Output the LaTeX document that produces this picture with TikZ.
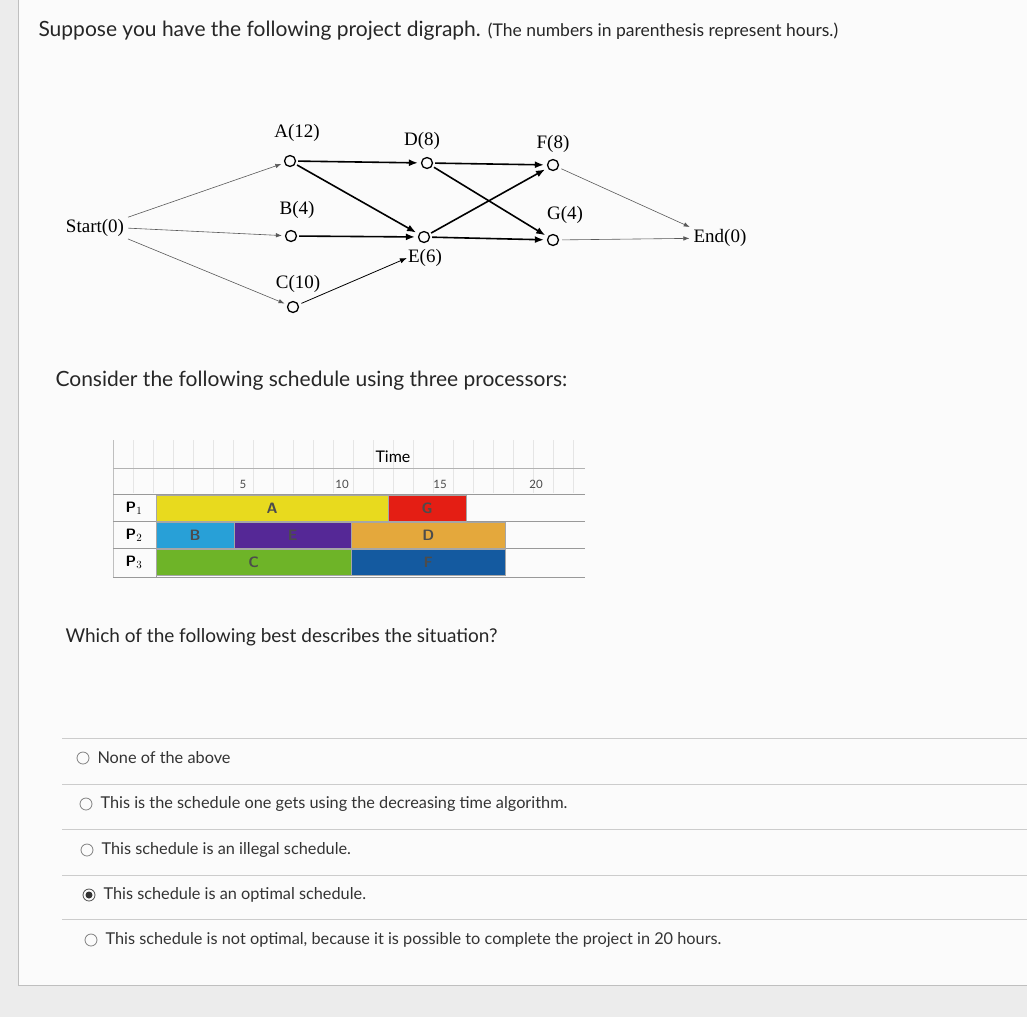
\documentclass[tikz,border=0pt]{standalone}
\usepackage{fontspec}
\setmainfont{Lato}
\newfontfamily\serif{Liberation Serif}
\usetikzlibrary{arrows.meta}
\definecolor{bga}{RGB}{236,236,236}
\definecolor{cA}{RGB}{232,218,30}
\definecolor{cG}{RGB}{228,30,20}
\definecolor{cB}{RGB}{40,160,215}
\definecolor{cE}{RGB}{85,40,150}
\definecolor{cD}{RGB}{228,168,60}
\definecolor{cC}{RGB}{110,180,40}
\definecolor{cF}{RGB}{20,90,160}
\tikzset{
  vert/.style={circle,draw,line width=1.3pt,inner sep=0pt,minimum size=11pt},
  gl/.style={font=\serif\fontsize{19}{19}\selectfont,inner sep=1pt},
  thinarr/.style={draw=gray!70!black,-{Latex[length=6pt]},line width=0.6pt,shorten >=3pt,shorten <=3pt},
  thickarr/.style={draw=black,-{Latex[length=9pt,width=7pt]},line width=1.6pt,shorten >=3pt,shorten <=2pt},
  bar/.style={draw=gray!70,minimum height=26pt,inner sep=0pt,font=\sffamily\bfseries\fontsize{15}{15}\selectfont,text=black!70},
  opt/.style={anchor=west,font=\fontsize{16.3}{16.3}\selectfont,text=black!80},
  radio/.style={circle,draw=gray,thick,minimum size=12pt,inner sep=0pt},
  sep/.style={draw=gray!40,line width=0.8pt}
}
\begin{document}
\begin{tikzpicture}[x=1pt,y=-1pt]
\useasboundingbox (0,0) rectangle (1027,1017);
\fill[bga] (0,0) rectangle (1027,1017);
\fill[white!97!gray] (18,0) rectangle (1027,985);
\draw[gray!50] (18,0) -- (18,985) -- (1027,985);
\node[anchor=west,font=\fontsize{21}{21}\selectfont,text=black!85] (title) at (35,31) {Suppose you have the following project digraph. {\fontsize{17.5}{17.5}\selectfont(The numbers in parenthesis represent hours.)}};
% digraph
\node[gl] (start) at (95,228) {Start(0)};
\node[gl] (end) at (720,238) {End(0)};
\node[vert] (A) at (290,161) {};
\node[vert] (D) at (427,163) {};
\node[vert] (F) at (553,165) {};
\node[vert] (B) at (291,236) {};
\node[vert] (E) at (424,237) {};
\node[vert] (G) at (553,240) {};
\node[vert] (C) at (293,307) {};
\node[gl] (lA) at (297,133) {A(12)};
\node[gl] (lD) at (422,141) {D(8)};
\node[gl] (lF) at (553,144) {F(8)};
\node[gl] (lB) at (297,210) {B(4)};
\node[gl] (lG) at (565,215) {G(4)};
\node[gl] (lE) at (425,258) {E(6)};
\node[gl] (lC) at (298,284) {C(10)};
\draw[thinarr] (start.north east) -- (A);
\draw[thinarr] (start.east) -- (B);
\draw[thinarr] (start.south east) -- (C);
\draw[thinarr] (F) -- (end.north west);
\draw[thinarr] (G) -- (end);
\draw[thickarr] (A) -- (D);
\draw[thickarr] (A) -- (E);
\draw[thickarr] (B) -- (E);
\draw[thickarr] (D) -- (F);
\draw[thickarr] (D) -- (G);
\draw[thickarr] (E) -- (F);
\draw[thickarr] (E) -- (G);
\draw[line width=0.8pt,-{Latex[length=7pt]},shorten <=3pt] (C) -- (lE.west);
\node[anchor=west,font=\fontsize{21}{21}\selectfont,text=black!85] (consider) at (52,381) {Consider the following schedule using three processors:};
% chart
\draw[gray!50] (113,440) -- (113,577);
\foreach \x in {133,153,173,193,213,233,253,273,293,313,333,353,373,393,413,433,453,473,493,513,533,553,573}
  \draw[gray!20] (\x,440) -- (\x,493);
\draw[gray!60] (113,468) -- (585,468);
\node[font=\fontsize{16}{16}\selectfont] (time) at (393,457) {Time};
\foreach \t/\x in {5/243,10/342,15/440,20/536}
  \node[font=\fontsize{11.5}{11.5}\selectfont,text=black!70] (t\t) at (\x,484) {\t};
\draw[gray!80] (113,494) -- (585,494);
\draw[gray!80] (113,521) -- (585,521);
\draw[gray!80] (113,548) -- (585,548);
\draw[gray!80] (113,577) -- (585,577);
\draw[gray!80] (156,494) -- (156,577);
\node[font=\sffamily\bfseries\fontsize{15}{15}\selectfont] (p1) at (134,508) {P$_1$};
\node[font=\sffamily\bfseries\fontsize{15}{15}\selectfont] (p2) at (134,535) {P$_2$};
\node[font=\sffamily\bfseries\fontsize{15}{15}\selectfont] (p3) at (134,562) {P$_3$};
\node[bar,fill=cA,minimum width=232pt,anchor=west] (bA) at (156,508) {A};
\node[bar,fill=cG,minimum width=78pt,anchor=west] (bG) at (388,508) {G};
\node[bar,fill=cB,minimum width=78pt,anchor=west] (bB) at (156,535) {B};
\node[bar,fill=cE,minimum width=117pt,anchor=west] (bE) at (234,535) {E};
\node[bar,fill=cD,minimum width=154pt,anchor=west] (bD) at (351,535) {D};
\node[bar,fill=cC,minimum width=195pt,anchor=west] (bC) at (156,562) {C};
\node[bar,fill=cF,minimum width=154pt,anchor=west] (bF) at (351,562) {F};
\node[anchor=west,font=\fontsize{19}{19}\selectfont,text=black!85] (q) at (62,637) {Which of the following best describes the situation?};
% options
\draw[sep] (62,738) -- (1027,738);
\draw[sep] (62,784) -- (1027,784);
\draw[sep] (62,829) -- (1027,829);
\draw[sep] (62,875) -- (1027,875);
\draw[sep] (62,919) -- (1027,919);
\node[radio] (r1) at (83,758) {};
\node[opt] (o1) at (94,758) {None of the above};
\node[radio] (r2) at (86,804) {};
\node[opt] (o2) at (97,804) {This is the schedule one gets using the decreasing time algorithm.};
\node[radio] (r3) at (87,850) {};
\node[opt] (o3) at (98,850) {This schedule is an illegal schedule.};
\node[radio,draw=black!70] (r4) at (89,895) {};
\fill[black!80] (r4) circle (3.5pt);
\node[opt] (o4) at (100,895) {This schedule is an optimal schedule.};
\node[radio] (r5) at (91,940) {};
\node[opt] (o5) at (102,940) {This schedule is not optimal, because it is possible to complete the project in 20 hours.};
\end{tikzpicture}
\end{document}
